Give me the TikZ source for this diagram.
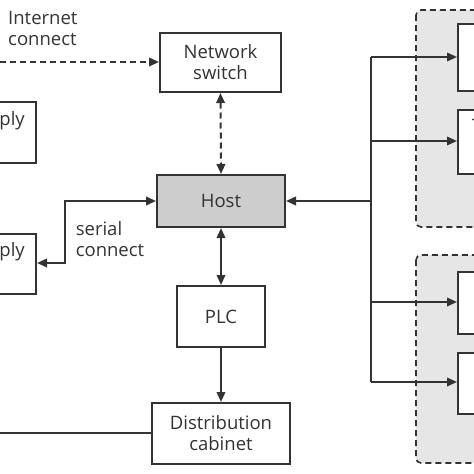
\documentclass[tikz,border=0pt]{standalone}
\usepackage{fontspec}
\setmainfont{Open Sans}
\usetikzlibrary{arrows.meta}
\definecolor{ln}{HTML}{333333}
\definecolor{hostfill}{HTML}{CDCDCD}
\definecolor{grpfill}{HTML}{E6E6E6}
\begin{document}
\begin{tikzpicture}[x=1pt,y=-1pt,
  every node/.style={font=\fontsize{18.5}{21}\selectfont, text=ln},
  box/.style={draw=ln, line width=2pt, fill=white, inner sep=0pt, align=center},
  wire/.style={draw=ln, line width=2pt},
  conn/.style={wire, -{Triangle[length=10pt,width=8.5pt]}},
  dconn/.style={wire, {Triangle[length=10pt,width=8.5pt]}-{Triangle[length=10pt,width=8.5pt]}},
  grp/.style={draw=ln, line width=1.6pt, dash pattern=on 6pt off 4pt, fill=grpfill, rounded corners=5pt}
]
\useasboundingbox (0,0) rectangle (474,474);
\clip (0,0) rectangle (474,474);
% groups
\draw[grp] (416,10) rectangle (500,227);
\draw[grp] (416,255) rectangle (500,463);
% right boxes
\node[box, minimum width=60pt, minimum height=67pt, anchor=north west] (ra) at (457,23) {};
\node[box, minimum width=60pt, minimum height=64pt, anchor=north west] (rb) at (457,109) {};
\node[box, minimum width=60pt, minimum height=62pt, anchor=north west] (rc) at (457,271) {};
\node[box, minimum width=60pt, minimum height=61pt, anchor=north west] (rd) at (457,352) {};
\node[anchor=north west, inner sep=0pt] (rbt) at (472,119) {T};
% main boxes
\node[box, minimum width=121pt, minimum height=59pt] (sw) at (220.5,62.5) {Network\\switch};
\node[box, fill=hostfill, minimum width=128pt, minimum height=52pt] (host) at (221,201) {Host};
\node[box, minimum width=88pt, minimum height=61pt] (plc) at (221,316.5) {PLC};
\node[box, minimum width=138pt, minimum height=61pt] (dist) at (221,433.5) {Distribution\\cabinet};
\node[box, minimum width=60pt, minimum height=61pt, anchor=north east] (s1) at (37,101) {};
\node[box, minimum width=60pt, minimum height=60pt, anchor=north east] (s2) at (37,233) {};
\node[anchor=east, inner sep=0pt] (s1t) at (25,121) {ply};
\node[anchor=east, inner sep=0pt] (s2t) at (25,252) {ply};
% labels
\node[anchor=north west, align=left, inner sep=0pt] (inet) at (8,11) {Internet\\connect};
\node[align=left, inner sep=0pt] (ser) at (110,239) {serial\\connect};
% connectors
\coordinate (inl) at (0,62);
\draw[conn, dash pattern=on 6pt off 4pt] (inl) -- (sw.west |- inl);
\draw[dconn, dash pattern=on 6pt off 4pt] (sw.south) -- (host.north);
\draw[dconn] (host.south) -- (plc.north);
\draw[conn] (plc.south) -- (dist.north);
\coordinate (dl) at (0,433);
\draw[wire] (dist.west |- dl) -- (dl);
\coordinate (sa) at (65,201);
\coordinate (sb) at (65,263);
\draw[dconn] (host.west) -- (sa) -- (sb) -- (s2.east |- sb);
% bus
\coordinate (b0) at (371,201);
\coordinate (b1) at (371,57);
\coordinate (b2) at (371,141);
\coordinate (b3) at (371,302);
\coordinate (b4) at (371,382);
\draw[wire] (b1) -- (b4);
\draw[conn] (b0) -- (host.east);
\draw[conn] (b1) -- (ra.west |- b1);
\draw[conn] (b2) -- (rb.west |- b2);
\draw[conn] (b3) -- (rc.west |- b3);
\draw[conn] (b4) -- (rd.west |- b4);
\end{tikzpicture}
\end{document}
